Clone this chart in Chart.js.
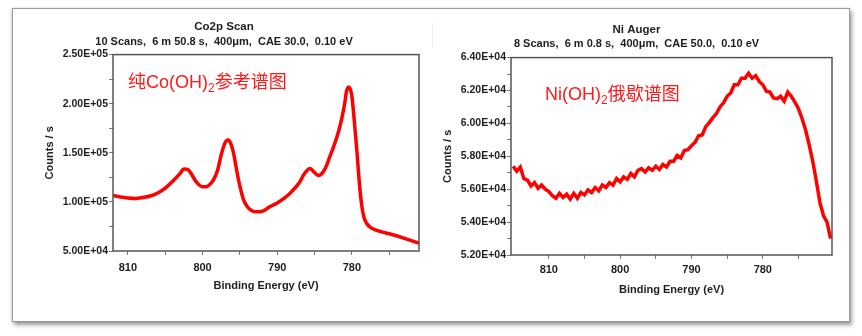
<!DOCTYPE html>
<html><head><meta charset="utf-8">
<script src="https://cdn.jsdelivr.net/npm/chart.js@4.4.1/dist/chart.umd.min.js"></script>
<style>
html,body{margin:0;padding:0;background:#fff;}
#wrap{position:relative;width:862px;height:336px;overflow:hidden;background:#fff;}
#frame{position:absolute;left:12px;top:8px;width:836px;height:312px;border:1px solid #9a9a9a;box-shadow:2px 3px 4px rgba(0,0,0,0.38),-1px 0 3px rgba(0,0,0,0.12);background:#fff;}
#divider{position:absolute;left:432px;top:22px;width:1px;height:26px;background:#f2f2f2;}
canvas{position:absolute;top:0;}
#c1{left:0}
#c2{left:431px}
.note{position:absolute;color:#ff1a1a;font-size:18px;font-family:"Liberation Sans","Noto Sans CJK SC",sans-serif;white-space:nowrap;line-height:1}
.note sub{font-size:12px;vertical-align:-4px;line-height:0}
#n1{left:128px;top:73px}
#n2{left:545px;top:85px}
</style></head>
<body><div id="wrap"><div id="frame"></div><div id="divider"></div>
<canvas id="c1" width="431" height="336"></canvas>
<canvas id="c2" width="431" height="336"></canvas>
<div class="note" id="n1">纯Co(OH)<sub>2</sub>参考谱图</div>
<div class="note" id="n2">Ni(OH)<sub>2</sub>俄歇谱图</div>
</div>
<script>
// ---- Co2p data ----
const coEnergy = [812,811,810,809,808,807,806,805,804,803,802.5,802,801.5,801,800.5,800,799.5,799,798.5,798,797.5,797,796.6,796.2,795.8,795.4,795,794.5,794,793.5,793,792.5,792,791.5,791,790,789,788,787,786.5,786,785.6,785,784.5,784,783.5,783,782.5,782,781.5,781,780.7,780.4,780,779.7,779.3,779,778.7,778.4,778,777.5,777,776,775,774,773,772,771];
const coCounts = [106500,105000,104000,103500,104500,106000,109000,114000,121000,129000,133500,133000,128500,122000,117500,115500,115500,118000,123000,132000,148000,160000,163000,159000,148000,131000,116000,102000,95000,91500,90000,90000,90500,92500,95000,99000,104000,111000,120000,127000,132000,134000,130000,127000,129000,135000,145000,155000,166000,180000,198000,213000,217000,208000,185000,150000,120000,98000,85000,78000,74000,72000,69500,67500,65500,63000,60500,58000];
const coXTicks = [810,805,800,795,790,785,780,775];
const coXLabels = ['810','','800','','790','','780',''];
const coYTicks = [50000,75000,100000,125000,150000,175000,200000,225000,250000];
const coYLabels = ['5.00E+04','','1.00E+05','','1.50E+05','','2.00E+05','','2.50E+05'];

// ---- Ni Auger data ----
const niEnergy = [815,814.5,814,813.5,813,812.5,812,811.5,811,810.5,810,809.5,809,808.5,808,807.5,807,806.5,806,805.5,805,804.5,804,803.5,803,802.5,802,801.5,801,800.5,800,799.5,799,798.5,798,797.5,797,796.5,796,795.5,795,794.5,794,793.5,793,792.5,792,791.5,791,790.5,790,789.5,789,788.5,788,787.5,787,786.5,786,785.5,785,784.5,784,783.5,783,782.5,782,781.5,781,780.5,780,779.5,779,778.5,778,777.5,777,776.5,776,775.5,775,774.5,774,773.5,773,772.5,772,771.5,771,770.5];
const niCounts = [57400,57100,57350,56650,56550,56200,56400,56050,56250,56000,55850,55600,55450,55750,55500,55700,55400,55750,55450,55800,55650,55950,55800,56100,55900,56250,56100,56400,56250,56650,56450,56750,56600,56950,56750,57150,57250,57050,57300,57150,57400,57200,57500,57350,57700,57700,58050,57900,58350,58400,58650,58850,59250,59300,59800,60050,60350,60600,61000,61250,61650,61850,62350,62350,62750,62750,63050,62750,62900,62550,62350,61950,61900,61550,61500,61650,61350,61900,61650,61300,60900,60300,59600,58700,57700,56500,55200,54400,54000,53000];
const niXTicks = [810,805,800,795,790,785,780,775];
const niXLabels = ['810','','800','','790','','780',''];
const niYTicks = [52000,53000,54000,55000,56000,57000,58000,59000,60000,61000,62000,63000,64000];
const niYLabels = ['5.20E+04','','5.40E+04','','5.60E+04','','5.80E+04','','6.00E+04','','6.20E+04','','6.40E+04'];

const FONT = '"Liberation Sans", Arial, sans-serif';
const TXT = '#1e1e1e';

const boxPlugin = {
  id: 'plotBox',
  afterDraw(chart) {
    const a = chart.chartArea, ctx = chart.ctx;
    ctx.save();
    ctx.strokeStyle = '#555';
    ctx.lineWidth = 1.5;
    ctx.strokeRect(a.left, a.top, a.right - a.left, a.bottom - a.top);
    ctx.restore();
  }
};

function build(id, o) {
  const pts = o.xs.map((x, i) => ({x: x, y: o.ys[i]}));
  const lbl = (ticks, labels) => (v) => { const i = ticks.indexOf(v); return i >= 0 ? labels[i] : ''; };
  return new Chart(document.getElementById(id), {
    type: 'line',
    data: {datasets: [{data: pts, borderColor: '#ff0000', borderWidth: o.lw, pointRadius: 0,
      tension: o.smooth ? 0.4 : 0, cubicInterpolationMode: o.smooth ? 'monotone' : 'default', fill: false}]},
    options: {
      responsive: false, animation: false, devicePixelRatio: 1,
      layout: {padding: {left: o.padL, right: o.padR, top: 0, bottom: 0}},
      plugins: {
        legend: {display: false}, tooltip: {enabled: false},
        title: {display: true, text: o.title, color: TXT, font: {family: FONT, size: 11.5, weight: 'bold', lineHeight: 1.2}, padding: {top: o.tPad, bottom: 0}},
        subtitle: {display: true, text: o.sub, color: TXT, font: {family: FONT, size: 11, weight: 'bold', lineHeight: 1.2}, padding: {top: o.sPadT, bottom: o.sPadB}}
      },
      scales: {
        x: {type: 'linear', reverse: true, min: o.xmin, max: o.xmax,
          afterBuildTicks: s => { s.ticks = o.xTicks.map(v => ({value: v})); },
          afterFit: s => { s.height = o.xH; },
          ticks: {callback: lbl(o.xTicks, o.xLabels), autoSkip: false, maxRotation: 0, color: TXT, padding: o.xLabPad, font: {family: FONT, size: 11, weight: 'bold'}},
          grid: {display: true, drawOnChartArea: false, drawTicks: true, tickLength: 4, color: '#777'},
          border: {display: false},
          title: {display: true, text: 'Binding Energy (eV)', color: TXT, font: {family: FONT, size: 11, weight: 'bold', lineHeight: 1.2}, padding: {top: 0, bottom: o.xTitlePad}}
        },
        y: {type: 'linear', min: o.ymin, max: o.ymax,
          afterBuildTicks: s => { s.ticks = o.yTicks.map(v => ({value: v})); },
          afterFit: s => { s.width = o.yW; },
          ticks: {callback: lbl(o.yTicks, o.yLabels), autoSkip: false, color: TXT, padding: 1, font: {family: FONT, size: 10.5, weight: 'bold'}},
          grid: {display: true, drawOnChartArea: false, drawTicks: true, tickLength: 4, color: '#777'},
          border: {display: false},
          title: {display: true, text: 'Counts / s', color: TXT, font: {family: FONT, size: 11, weight: 'bold', lineHeight: 1.2}, padding: {top: o.yTitlePad, bottom: 0}}
        }
      }
    },
    plugins: [boxPlugin]
  });
}

build('c1', {xs: coEnergy, ys: coCounts, smooth: true, lw: 3.5,
  title: 'Co2p Scan', sub: '10 Scans,  6 m 50.8 s,  400μm,  CAE 30.0,  0.10 eV',
  padL: 29, padR: 12, tPad: 20, sPadT: 1.7, sPadB: 5.9,
  xmin: 771, xmax: 812, xTicks: coXTicks, xLabels: coXLabels, xH: 85, xLabPad: 6, xTitlePad: 43.4,
  ymin: 50000, ymax: 250000, yTicks: coYTicks, yLabels: coYLabels, yW: 84, yTitlePad: 14.4});

build('c2', {xs: niEnergy, ys: niCounts, smooth: false, lw: 3.5,
  title: 'Ni Auger', sub: '8 Scans,  6 m 0.8 s,  400μm,  CAE 50.0,  0.10 eV',
  padL: 10, padR: 30, tPad: 23.4, sPadT: 0.3, sPadB: 6.9,
  xmin: 770.3, xmax: 815.3, xTicks: niXTicks, xLabels: niXLabels, xH: 81, xLabPad: 4.7, xTitlePad: 39.4,
  ymin: 52000, ymax: 64000, yTicks: niYTicks, yLabels: niYLabels, yW: 70, yTitlePad: 0.5});
</script>
</body></html>
